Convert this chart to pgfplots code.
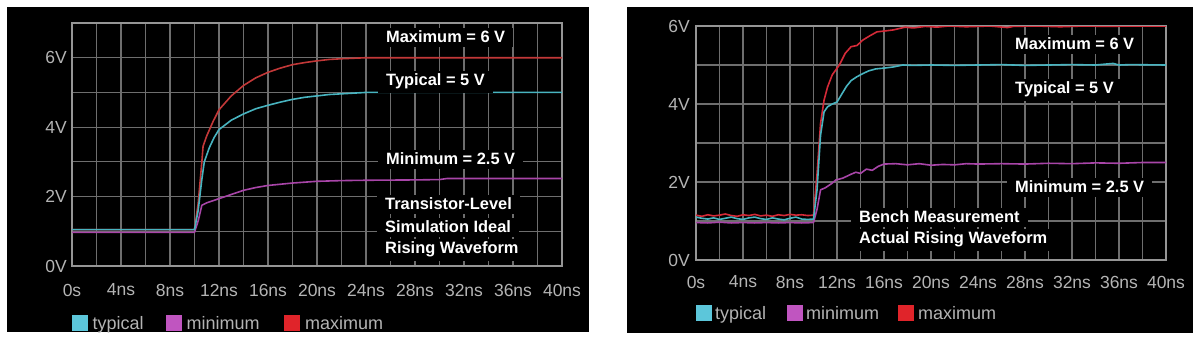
\documentclass[border=0pt]{standalone}
\usepackage{pgfplots}
\pgfplotsset{compat=1.18}
\usepackage{fontspec}
\setmainfont{Liberation Sans}
\definecolor{gridgray}{HTML}{6E6E6E}
\definecolor{framegray}{HTML}{959595}
\definecolor{labelgray}{HTML}{B4B4B4}
\definecolor{typC}{HTML}{48B4C0}
\definecolor{minC}{HTML}{A845A8}
\definecolor{maxC}{HTML}{C23838}
\definecolor{maxR}{HTML}{D42A38}
\definecolor{legT}{HTML}{5CC6DA}
\definecolor{legM}{HTML}{C055C0}
\definecolor{legX}{HTML}{E0242A}
\newcommand\annfont{\bfseries\fontsize{16.4}{18}\selectfont}
\newcommand\legfont{\fontsize{18}{20}\selectfont}
\pgfplotsset{wave/.style={
  scale only axis,
  axis line style={draw=framegray, line width=1.4pt},
  xmin=0, xmax=40, ymin=0,
  xtick={0,4,...,40}, minor xtick={2,6,...,38},
  xticklabels={0s,4ns,8ns,12ns,16ns,20ns,24ns,28ns,32ns,36ns,40ns},
  ytick={0,2,4,6}, minor ytick={1,3,5},
  yticklabels={0V,2V,4V,6V},
  grid=both,
  major grid style={draw=gridgray, line width=1.2pt},
  minor grid style={draw=gridgray, line width=1.2pt},
  major tick length=0pt, minor tick length=0pt,
  tick label style={text=labelgray, font=\fontsize{17.5}{18}\selectfont},
  every axis plot/.append style={line width=1.6pt, no marks, line join=round},
}}
\begin{document}
\begin{tikzpicture}[x=1pt,y=1pt]
\fill[white] (0pt,0pt) rectangle (1200pt,341pt);
\fill[black] (7pt,9pt) rectangle (589pt,334pt);
\fill[black] (627pt,8pt) rectangle (1193pt,334pt);
% ---------- left: simulation ----------
\begin{axis}[wave, at={(72pt,75pt)}, anchor=origin, width=490pt, height=243pt, ymax=7,
  xticklabel style={anchor=center, yshift=-24pt},
  yticklabel style={anchor=east, inner xsep=0pt, xshift=-5pt}]
\addplot[maxC] coordinates {(0,1.05) (10,1.05) (10.3,1.8) (10.6,3.0) (10.7,3.45) (11,3.75) (11.5,4.15) (12,4.5) (13,4.9) (14,5.2) (15,5.42) (16,5.58) (17,5.7) (18,5.8) (19,5.86) (20,5.91) (21,5.95) (22,5.97) (24,6.0) (40,6.0)};
\addplot[minC] coordinates {(0,0.97) (10,0.97) (10.3,1.3) (10.6,1.75) (11,1.82) (12,1.94) (13,2.06) (14,2.18) (15,2.26) (16,2.32) (18,2.39) (20,2.44) (22,2.46) (24,2.47) (28,2.48) (30,2.49) (30.6,2.52) (40,2.52)};
\addplot[typC] coordinates {(0,1.05) (10,1.05) (10.3,1.6) (10.6,2.5) (10.8,3.0) (11.2,3.4) (11.6,3.7) (12,3.93) (13,4.2) (14,4.38) (15,4.53) (16,4.63) (17,4.72) (18,4.8) (19,4.86) (20,4.9) (21,4.94) (22,4.96) (23,4.98) (24,5.0) (40,5.0)};
\end{axis}
% ---------- right: bench ----------
\begin{axis}[wave, at={(696pt,81pt)}, anchor=origin, width=470pt, height=234pt, ymax=6,
  xticklabel style={anchor=center, yshift=-22pt},
  yticklabel style={anchor=east, inner xsep=0pt, xshift=-6pt}]
\addplot[maxR] coordinates {(0,1.15) (0.5,1.12) (1,1.16) (1.5,1.13) (2,1.15) (2.5,1.18) (3,1.14) (3.5,1.12) (4,1.16) (4.5,1.14) (5,1.17) (5.5,1.13) (6,1.15) (6.5,1.12) (7,1.16) (7.5,1.14) (8,1.17) (8.5,1.15) (9,1.16) (9.5,1.14) (10,1.15) (10.3,2.2) (10.6,3.5) (10.9,4.1) (11.2,4.44) (11.6,4.75) (12.2,5.0) (12.7,5.3) (13.2,5.47) (13.7,5.5) (14.2,5.64) (14.8,5.75) (15.4,5.85) (16,5.87) (16.8,5.9) (17.8,5.97) (18.5,5.95) (19.5,5.99) (20.5,5.97) (21.5,6.0) (23,5.98) (25,6.0) (26.5,5.96) (27,5.99) (29,6.0) (31,5.98) (33,6.0) (35,5.99) (37,6.0) (40,6.0)};
\addplot[minC] coordinates {(0,0.96) (1,0.95) (2,0.97) (3,0.95) (4,0.96) (5,0.95) (6,0.96) (7,0.95) (8,0.96) (9,0.95) (10,0.96) (10.3,1.3) (10.6,1.8) (11,1.85) (11.5,1.95) (11.9,2.05) (12.5,2.1) (13.2,2.2) (13.6,2.25) (14,2.22) (14.5,2.33) (15,2.3) (15.5,2.4) (16,2.46) (17,2.47) (18,2.44) (19,2.47) (20,2.43) (21,2.45) (22,2.44) (23,2.47) (24,2.46) (26,2.47) (28,2.46) (30,2.48) (32,2.47) (34,2.49) (36,2.48) (38,2.5) (40,2.5)};
\addplot[typC] coordinates {(0,1.1) (0.5,1.07) (1,1.05) (1.5,1.08) (2,1.04) (2.5,1.07) (3,1.1) (3.5,1.06) (4,1.04) (4.5,1.08) (5,1.1) (5.5,1.06) (6,1.04) (6.5,1.08) (7,1.05) (7.5,1.03) (8,1.07) (8.5,1.1) (9,1.05) (9.5,1.04) (10,1.05) (10.3,1.8) (10.6,3.2) (10.9,3.8) (11.2,3.93) (11.6,4.0) (12,4.05) (12.4,4.25) (12.8,4.45) (13.2,4.6) (13.7,4.7) (14.2,4.78) (14.7,4.85) (15.3,4.9) (16,4.92) (16.8,4.95) (17.6,5.0) (18.5,4.99) (20,5.0) (22,4.99) (24,5.0) (26,5.01) (28,4.99) (30,5.0) (32,5.01) (34,5.0) (35.5,5.04) (36,5.0) (37,5.01) (40,5.0)};
\end{axis}
% ---------- annotations ----------
\tikzset{ann/.style={fill=black, text=white, font=\annfont, anchor=base west, inner xsep=8pt, inner ysep=3.5pt}}
\node[ann] at (378pt,298.1pt) {Maximum = 6 V};
\node[ann] at (378pt,255.1pt) {Typical = 5 V};
\node[ann] at (378pt,176.1pt) {Minimum = 2.5 V};
\node[ann] at (377pt,131.1pt) {Transistor-Level};
\node[ann] at (377pt,108.1pt) {Simulation Ideal};
\node[ann] at (377pt,87.1pt) {Rising Waveform};
\node[ann] at (1007pt,291.1pt) {Maximum = 6 V};
\node[ann] at (1007pt,247.1pt) {Typical = 5 V};
\node[ann] at (1007pt,148.1pt) {Minimum = 2.5 V};
\node[ann] at (851pt,118.1pt) {Bench Measurement};
\node[ann] at (851pt,97.1pt) {Actual Rising Waveform};
% ---------- legends ----------
\tikzset{leg/.style={text=labelgray, font=\legfont, anchor=base west, inner sep=0pt}}
\fill[legT] (72pt,10pt) rectangle (88pt,26pt);
\node[leg] at (92.5pt,12pt) {typical};
\fill[legM] (166pt,10pt) rectangle (182pt,26pt);
\node[leg] at (186.5pt,12pt) {minimum};
\fill[legX] (284pt,10pt) rectangle (300pt,26pt);
\node[leg] at (305pt,12pt) {maximum};
\fill[legT] (696pt,20pt) rectangle (712pt,36pt);
\node[leg] at (715pt,22pt) {typical};
\fill[legM] (787pt,20pt) rectangle (803pt,36pt);
\node[leg] at (806pt,22pt) {minimum};
\fill[legX] (898pt,20pt) rectangle (914pt,36pt);
\node[leg] at (918pt,22pt) {maximum};
\pgfresetboundingbox
\path[use as bounding box] (0pt,0pt) rectangle (1200pt,341pt);
\end{tikzpicture}
\end{document}
